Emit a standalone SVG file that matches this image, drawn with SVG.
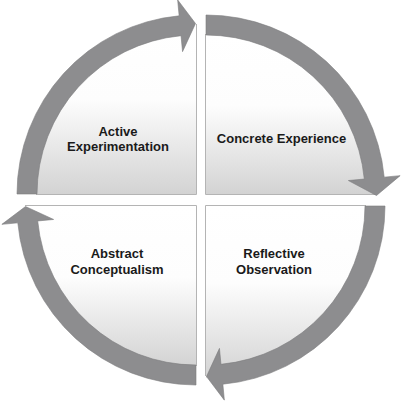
<svg xmlns="http://www.w3.org/2000/svg" width="402" height="402" viewBox="0 0 402 402">
<defs>
<linearGradient id="qg" x1="0" y1="0" x2="0" y2="1">
<stop offset="0" stop-color="#ffffff"/>
<stop offset="0.45" stop-color="#fdfdfd"/>
<stop offset="1" stop-color="#d3d3d3"/>
</linearGradient>
</defs>
<style>
.q{fill:url(#qg);stroke:none}
.edge{fill:none;stroke:#b4b4b4;stroke-width:1}
.band{fill:#8d8d8f;stroke:#7c7c7e;stroke-width:0.6;stroke-linejoin:miter}
.t{font-family:"Liberation Sans",Arial,sans-serif;font-weight:bold;font-size:13px;fill:#1a1a1a;text-anchor:middle}
</style>
<rect width="402" height="402" fill="#ffffff"/>
<g id="active-experimentation">
<path class="q" d="M196,194 L36,194 A160,160 0 0 1 181,35 L196,22 Z"/>
<path class="edge" d="M36,194.5 L196.5,194.5 L196.5,24"/>
<text class="t" x="118" y="135.5">Active</text>
<text class="t" x="118" y="151">Experimentation</text>
</g>
<g id="concrete-experience">
<path class="q" d="M206,194 L206,34 A160,160 0 0 1 365,179 L378,194 Z"/>
<path class="edge" d="M205.5,34 L205.5,194.5 L376,194.5"/>
<text class="t" x="281.5" y="143">Concrete Experience</text>
</g>
<g id="reflective-observation">
<path class="q" d="M206,206 L366,206 A160,160 0 0 1 221,365 L206,378 Z"/>
<path class="edge" d="M366,205.5 L205.5,205.5 L205.5,376"/>
<text class="t" x="274" y="257.5">Reflective</text>
<text class="t" x="274" y="273.5">Observation</text>
</g>
<g id="abstract-conceptualism">
<path class="q" d="M196,206 L196,366 A160,160 0 0 1 37,221 L24,206 Z"/>
<path class="edge" d="M196.5,366 L196.5,205.5 L25,205.5"/>
<text class="t" x="117" y="257.5">Abstract</text>
<text class="t" x="117" y="273.5">Conceptualism</text>
</g>
<g id="connectors">
<path class="band" d="M17,194 A179,179 0 0 1 179.15,15.8 L177.65,-0.13 L195.5,23.5 L182.54,51.63 L181.04,35.7 A159,159 0 0 0 37,194 Z"/>
<path class="band" d="M206,15 A179,179 0 0 1 384.2,177.15 L400.13,175.65 L376.5,195.5 L348.37,180.54 L364.3,179.04 A159,159 0 0 0 206,35 Z"/>
<path class="band" d="M385,206 A179,179 0 0 1 222.85,384.2 L224.35,400.13 L206.5,376.5 L219.46,348.37 L220.96,364.3 A159,159 0 0 0 365,206 Z"/>
<path class="band" d="M196,385 A179,179 0 0 1 17.8,222.85 L1.87,224.35 L25.5,206.5 L53.63,219.46 L37.7,220.96 A159,159 0 0 0 196,365 Z"/>
</g>
</svg>
